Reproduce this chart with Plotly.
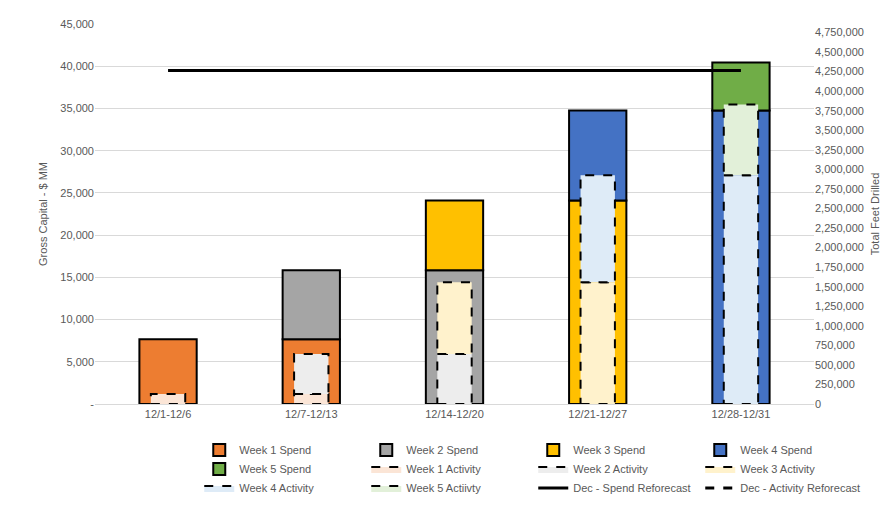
import numpy as np
import plotly.graph_objects as go

categories = ["12/1-12/6", "12/7-12/13", "12/14-12/20", "12/21-12/27", "12/28-12/31"]
spend_inc = [7680, 8160, 8270, 10640, 5680]          # weekly spend, $MM
activity_inc = [128000, 510000, 919000, 1367000, 906000]  # weekly feet drilled
spend_reforecast = 39480
spend_names = ["Week 1 Spend", "Week 2 Spend", "Week 3 Spend", "Week 4 Spend", "Week 5 Spend"]
act_names = ["Week 1 Activity", "Week 2 Activity", "Week 3 Activity", "Week 4 Activity", "Week 5 Actiivty"]
spend_colors = ["#ED7D31", "#A5A5A5", "#FFC000", "#4472C4", "#70AD47"]
act_colors = ["#FBE5D6", "#EDEDED", "#FFF2CC", "#DEEBF7", "#E2F0D9"]

n = len(categories)
xs = np.arange(n)
scum = np.cumsum(spend_inc)
acum = np.cumsum(activity_inc)

fig = go.Figure()
SW = 0.4
AW = 0.24
for k in range(n):
    x = [k]; base = [scum[k] - spend_inc[k]]; y = [spend_inc[k]]
    if k + 1 < n:
        x.append(k + 1); base.append(0); y.append(scum[k])
    fig.add_trace(go.Bar(x=x, y=y, base=base, width=SW, name=spend_names[k],
                         marker=dict(color=spend_colors[k], line=dict(color="black", width=2)),
                         yaxis="y"))

for k in range(n):
    segs = [(k, acum[k] - activity_inc[k], acum[k])]
    if k + 1 < n:
        segs.append((k + 1, 0, acum[k]))
    px, py = [], []
    for (c, lo, hi) in segs:
        h = AW / 2
        px += [c - h, c + h, c + h, c - h, c - h, None]
        py += [lo, lo, hi, hi, lo, None]
    fig.add_trace(go.Scatter(x=px, y=py, mode="lines", fill="toself", fillcolor=act_colors[k],
                             line=dict(color="black", width=2, dash="dash"),
                             name=act_names[k], yaxis="y2"))

fig.add_trace(go.Scatter(x=[xs[0], xs[-1]], y=[spend_reforecast] * 2, mode="lines",
                         line=dict(color="black", width=3), name="Dec - Spend Reforecast", yaxis="y"))
fig.add_trace(go.Scatter(x=[None], y=[None], mode="lines", line=dict(color="black", width=3, dash="dash"),
                         name="Dec - Activity Reforecast", yaxis="y2", showlegend=True))

tf = dict(family="Liberation Sans", size=11, color="#595959")
fig.update_layout(
    width=896, height=506, margin=dict(l=87, r=90, t=16, b=110, autoexpand=False),
    plot_bgcolor="white", paper_bgcolor="white", font=tf, barmode="overlay",
    xaxis=dict(range=[-0.51, 4.51], tickvals=list(xs), ticktext=categories, showgrid=False,
               showline=True, linecolor="#D9D9D9", ticks="", zeroline=False, tickfont=tf),
    yaxis=dict(range=[0, 45000], gridcolor="#D9D9D9", tickfont=tf,
               title=dict(text="Gross Capital - $ MM", standoff=10, font=tf), zeroline=False,
               tickvals=list(range(0, 45001, 5000)),
               ticktext=["-"] + [f"{v:,}" for v in range(5000, 45001, 5000)]),
    yaxis2=dict(overlaying="y", side="right", range=[0, 4858000], tickvals=list(range(0, 4750001, 250000)),
                tickformat=",", showgrid=False, zeroline=False, tickfont=tf,
                title=dict(text="Total Feet Drilled", standoff=8, font=tf)),
    showlegend=True,
    legend=dict(orientation="h", x=0.145, xanchor="left", yref="container", y=0.155, yanchor="top",
                entrywidth=122, entrywidthmode="pixels", traceorder="normal",
                font=tf, tracegroupgap=0),
)
fig.write_html("out.html")
